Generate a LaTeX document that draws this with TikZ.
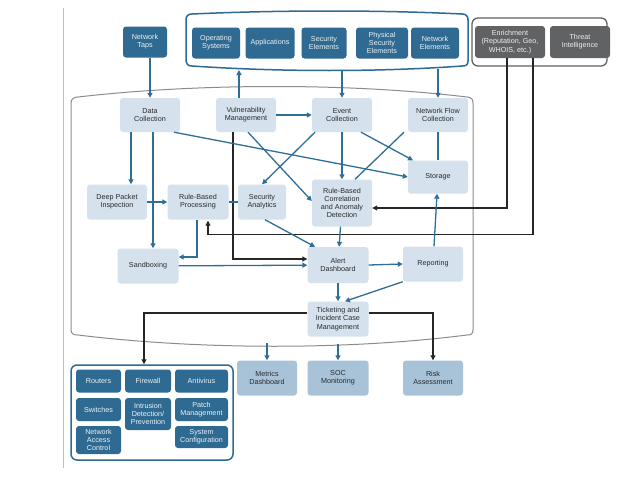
\documentclass[tikz,border=0pt]{standalone}
\usepackage{fontspec}
\setmainfont{Liberation Sans}
\usetikzlibrary{arrows.meta}
\definecolor{dkb}{HTML}{2E6A92}
\definecolor{ltb}{HTML}{D5E2EE}
\definecolor{mdb}{HTML}{A8C2D8}
\definecolor{gry}{HTML}{616264}
\definecolor{arb}{HTML}{2F6F96}
\definecolor{txt}{HTML}{2A2A2A}
\begin{document}
\begin{tikzpicture}[x=1pt,y=-1pt,
  bx/.style={rounded corners=3pt,align=center,inner sep=0pt,font=\fontsize{7.2}{8.2}\selectfont},
  dk/.style={bx,fill=dkb,text=white!92!dkb},
  lt/.style={bx,fill=ltb,text=txt},
  md/.style={bx,fill=mdb,text=txt},
  gr/.style={bx,fill=gry,text=white!90!gry},
  arr/.style={draw=arb,line width=1.3pt,-{Triangle[length=5pt,width=5pt]}},
  ln/.style={draw=arb,line width=1.3pt},
  blk/.style={draw=black!85,line width=1.1pt,-{Triangle[length=5pt,width=5pt]}},
  sz/.style 2 args={minimum width=#1,minimum height=#2}]
\useasboundingbox (0,0) rectangle (638,479);
\fill[white] (0,0) rectangle (638,479);
\draw[black!25,line width=0.8pt] (63,8) -- (63,468);
% top group
\draw[dkb,line width=1.5pt] (192,14) .. controls (280,10) and (380,10) .. (462,14) .. controls (466,14) and (468,16) .. (468,20) -- (468,61) .. controls (468,65) and (466,66) .. (462,66) .. controls (380,72) and (280,72) .. (192,66) .. controls (188,66) and (186,64) .. (186,61) -- (186,20) .. controls (186,16) and (188,14) .. (192,14) -- cycle;
\draw[gry,line width=1.3pt,rounded corners=6pt] (472,18) rectangle (607,66);
% big frame
\draw[black!45,line width=1pt] (78,97) .. controls (200,83) and (350,83) .. (467,97) .. controls (471,97) and (473,99) .. (473,103) -- (473,330) .. controls (473,334) and (471,335) .. (467,335) .. controls (350,350) and (200,350) .. (78,335) .. controls (74,335) and (71,334) .. (71,330) -- (71,103) .. controls (71,99) and (74,97) .. (78,97) -- cycle;
% device group
\node[draw=dkb,line width=1.5pt,rounded corners=6pt,sz={162pt}{95pt}] (dev) at (152,412.5) {};
\coordinate (tgv) at (239,70);
\coordinate (tgs) at (342,70);
\coordinate (tgn) at (438,69);
\coordinate (fm) at (267,343);
\coordinate (fs) at (338,344);
% nodes
\node[dk,sz={44pt}{31pt}] (taps) at (145,42) {Network\\Taps};
\node[dk,sz={48pt}{31pt}] (os) at (216,43) {Operating\\Systems};
\node[dk,sz={49pt}{31pt}] (apps) at (270,43) {Applications};
\node[dk,sz={45pt}{31pt}] (sec) at (324,43) {Security\\Elements};
\node[dk,sz={52pt}{31pt}] (phys) at (382,43) {Physical\\Security\\Elements};
\node[dk,sz={48pt}{31pt}] (netel) at (435,43) {Network\\Elements};
\node[gr,sz={70pt}{32pt}] (enr) at (510,42) {Enrichment\\(Reputation, Geo,\\WHOIS, etc.)};
\node[gr,sz={60pt}{32pt}] (thr) at (580,42) {Threat\\Intelligence};
\node[lt,sz={60pt}{34pt}] (dc) at (150,115) {Data\\Collection};
\node[lt,sz={60pt}{34pt}] (vm) at (246,115) {Vulnerability\\Management};
\node[lt,sz={60pt}{34pt}] (ev) at (342,115) {Event\\Collection};
\node[lt,sz={60pt}{34pt}] (nf) at (438,115) {Network Flow\\Collection};
\node[lt,sz={60pt}{33pt}] (st) at (438,177) {Storage};
\node[lt,sz={60pt}{35pt}] (dpi) at (117,202) {Deep Packet\\Inspection};
\node[lt,sz={61pt}{35pt}] (rbp) at (198,202) {Rule-Based\\Processing};
\node[lt,sz={48pt}{35pt}] (sa) at (262,202) {Security\\Analytics};
\node[lt,sz={60pt}{47pt}] (rbc) at (342,203) {Rule-Based\\Correlation\\and Anomaly\\Detection};
\node[lt,sz={61pt}{35pt}] (sb) at (148,266) {Sandboxing};
\node[lt,sz={61pt}{36pt}] (ad) at (338,265) {Alert\\Dashboard};
\node[lt,sz={60pt}{35pt}] (rep) at (433,264) {Reporting};
\node[lt,sz={61pt}{35pt}] (tk) at (338,319) {Ticketing and\\Incident Case\\Management};
\node[md,sz={60pt}{35pt}] (mdash) at (267,378) {Metrics\\Dashboard};
\node[md,sz={61pt}{35pt}] (soc) at (338,378) {SOC\\Monitoring};
\node[md,sz={60pt}{35pt}] (risk) at (433,378) {Risk\\Assessment};
\node[dk,sz={45pt}{23pt}] (routers) at (98.5,381) {Routers};
\node[dk,sz={46pt}{23pt}] (fw) at (148,381) {Firewall};
\node[dk,sz={53pt}{23pt}] (av) at (201.5,381) {Antivirus};
\node[dk,sz={45pt}{23pt}] (sw) at (98.5,409.5) {Switches};
\node[dk,sz={46pt}{32pt}] (ids) at (148,414) {Intrusion\\Detection/\\Prevention};
\node[dk,sz={53pt}{23pt}] (pm) at (201.5,409.5) {Patch\\Management};
\node[dk,sz={45pt}{28pt}] (nac) at (98.5,440) {Network\\Access\\Control};
\node[dk,sz={53pt}{22pt}] (sc) at (201.5,437) {System\\Configuration};
% black connectors
\draw[blk] ([xshift=-3pt]enr.south) |- ([yshift=-5pt]rbc.east);
\draw[blk] ([xshift=-47pt]thr.south) |- ([xshift=10pt,yshift=-15pt]rbp.south) -- ([xshift=10pt,yshift=-1pt]rbp.south);
\draw[blk] ([xshift=-13pt]vm.south) |- ([yshift=6pt]ad.west);
\draw[blk] ([yshift=6pt]tk.west) -| ([xshift=-8pt]dev.north);
\draw[blk] ([yshift=6pt]tk.east) -| (risk.north);
% blue connectors
\draw[arr] ([xshift=5pt]taps.south) -- (dc.north);
\draw[arr] ([xshift=-7pt]vm.north) -- (tgv);
\draw[arr] (tgs) -- (ev.north);
\draw[arr] (tgn) -- (nf.north);
\draw[arr] (vm) -- (ev);
\draw[arr] ([xshift=-19pt]dc.south) -- ([xshift=14pt]dpi.north);
\draw[arr] ([xshift=3pt]dc.south) -- ([xshift=5pt]sb.north);
\draw[arr] ([xshift=24pt]dc.south) -- (st.west);
\draw[arr] ([xshift=2pt]vm.south) -- ([yshift=2pt]rbc.west);
\draw[arr] ([xshift=-27pt]ev.south) -- (sa.north);
\draw[arr] (ev) -- (rbc);
\draw[arr] ([xshift=19pt]ev.south) -- ([xshift=-25pt]st.north);
\draw[ln] ([xshift=-34pt]nf.south) -- ([xshift=13pt]rbc.north);
\draw[ln] (nf) -- (st);
\draw[arr] (dpi) -- (rbp);
\draw[ln] (rbp) -- (sa);
\draw[arr] ([xshift=3pt]sa.south) -- ([xshift=-23pt]ad.north);
\draw[arr] (rbc) -- (ad);
\draw[arr] ([xshift=-1pt]rbp.south) |- ([yshift=9pt]sb.east);
\draw[arr] (sb) -- (ad);
\draw[arr] (ad.east) -- (rep.west);
\draw[arr] (rep) -- (st);
\draw[arr] (ad) -- (tk);
\draw[arr] (rep.south west) -- ([xshift=7pt]tk.north);
\draw[arr] (fm) -- (mdash.north);
\draw[arr] (fs) -- (soc.north);
\end{tikzpicture}
\end{document}
